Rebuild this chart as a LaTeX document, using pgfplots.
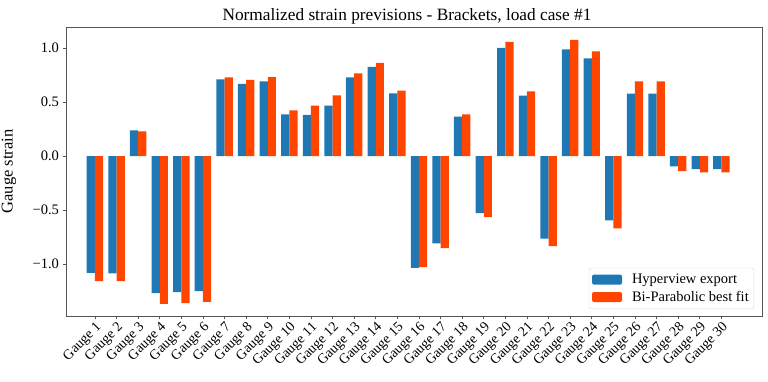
\documentclass[border=0pt]{standalone}
\usepackage{pgfplots}
\pgfplotsset{compat=1.18}
\usepackage{fontspec}
\setmainfont{Liberation Serif}
\definecolor{mplblue}{HTML}{1F77B4}
\definecolor{mplred}{HTML}{FF4500}
\definecolor{framegray}{HTML}{555555}
\pgfplotstableread{
x hv bp
0 -1.080 -1.157
1 -1.086 -1.157
2 0.238 0.228
3 -1.269 -1.367
4 -1.259 -1.361
5 -1.250 -1.349
6 0.710 0.728
7 0.667 0.704
8 0.691 0.731
9 0.386 0.423
10 0.380 0.466
11 0.466 0.562
12 0.728 0.765
13 0.824 0.861
14 0.580 0.605
15 -1.034 -1.028
16 -0.809 -0.852
17 0.364 0.386
18 -0.528 -0.565
19 1.000 1.056
20 0.559 0.599
21 -0.765 -0.833
22 0.988 1.074
23 0.904 0.969
24 -0.596 -0.670
25 0.577 0.691
26 0.577 0.691
27 -0.096 -0.139
28 -0.120 -0.151
29 -0.120 -0.151
}\datatable
\begin{document}
\begin{tikzpicture}[x=1pt,y=1pt]
\useasboundingbox (0,0) rectangle (768,382);
\begin{axis}[
  at={(66pt,66pt)}, anchor=south west,
  scale only axis, width=696pt, height=289pt,
  xmin=-1.34, xmax=30.88, ymin=-1.48, ymax=1.194,
  axis line style={framegray, line width=0.8pt},
  tick style={framegray, line width=0.8pt},
  tick align=outside, tick pos=left,
  major tick length=3.5pt,
  xtick={0,...,29},
  xticklabels={Gauge 1,Gauge 2,Gauge 3,Gauge 4,Gauge 5,Gauge 6,Gauge 7,Gauge 8,Gauge 9,Gauge 10,Gauge 11,Gauge 12,Gauge 13,Gauge 14,Gauge 15,Gauge 16,Gauge 17,Gauge 18,Gauge 19,Gauge 20,Gauge 21,Gauge 22,Gauge 23,Gauge 24,Gauge 25,Gauge 26,Gauge 27,Gauge 28,Gauge 29,Gauge 30},
  xticklabel style={rotate=45, anchor=north east, font=\fontsize{14}{14}\selectfont, inner sep=1pt},
  ytick={-1,-0.5,0,0.5,1},
  yticklabels={−1.0,−0.5,0.0,0.5,1.0},
  yticklabel style={font=\fontsize{14.5}{14.5}\selectfont},
  ylabel={Gauge strain},
  every axis y label/.style={at={(axis description cs:-0.0819,0.5)}, rotate=90, anchor=center, font=\fontsize{16.5}{16.5}\selectfont},
  title={Normalized strain previsions - Brackets, load case \#1},
  every axis title/.style={at={(axis description cs:0.5,1)}, anchor=base, yshift=6pt, xshift=-7pt, font=\fontsize{17.3}{17.3}\selectfont},
  legend style={at={(0.9885,0.024)}, anchor=south east, draw=black!15, rounded corners=2pt,
    font=\fontsize{14.5}{14.5}\selectfont, row sep=2pt, inner xsep=3pt, inner ysep=4pt,
    cells={anchor=west}},
  legend image code/.code={\fill[#1] (0pt,-5pt) rectangle (30pt,5pt); \path (38pt,0pt);},
  clip=false,
]
\addplot[ybar, bar width=0.38, bar shift=-0.19, fill=mplblue, draw=none] table[x=x, y=hv] {\datatable};
\addlegendentry{Hyperview export}
\addplot[ybar, bar width=0.38, bar shift=0.19, fill=mplred, draw=none] table[x=x, y=bp] {\datatable};
\addlegendentry{Bi-Parabolic best fit}
\end{axis}
\end{tikzpicture}
\end{document}
